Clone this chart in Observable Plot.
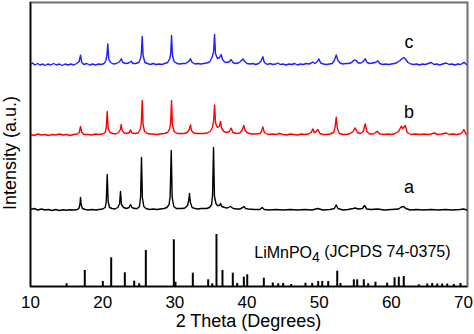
<!DOCTYPE html>
<html><head><meta charset="utf-8">
<script src="https://cdn.jsdelivr.net/npm/d3@7"></script>
<script src="https://cdn.jsdelivr.net/npm/@observablehq/plot@0.6"></script>
<style>body{margin:0;background:#fff} svg{display:block}</style>
</head><body><div id="chart"></div>
<script>
// x tick labels (2 Theta, degrees)
const xTicks = [10, 20, 30, 40, 50, 60, 70];

// sample a (black) : [2theta, intensity a.u.]
const traceA = [[10,1],[10.5,2],[11,0.5],[11.5,1.5],[12,0.5],[12.5,1],[13,0],[13.5,1],[14,0],[14.5,0.8],[15,0.2],[15.5,0.8],[16,0.5],[16.5,1],
[16.7,2],[16.85,6],[16.93,13],[17.02,6],[17.2,2],[17.6,1],[18,0.5],[18.5,1],[19,0.5],[19.5,1],[20,1.5],[20.35,3],
[20.5,9],[20.63,36],[20.76,9],[20.95,3],[21.3,2],[21.7,1.5],[22.1,3],[22.35,7],[22.47,19],[22.6,6],[22.9,3],[23.3,2],[23.65,3],[23.86,6],[24.05,3],[24.4,2],[24.8,2],
[25.1,4],[25.25,13],[25.38,53],[25.5,13],[25.7,4],[26,2],[26.5,1],[27,1.5],[27.5,1],[28,1.5],[28.5,2],[28.9,3],[29.2,6],[29.35,14],[29.5,60],[29.63,13],[29.85,4],
[30.2,2],[30.6,2],[31,2],[31.4,2.5],[31.75,5],[31.92,10],[32.03,17],[32.15,8],[32.4,3],[32.8,2],[33.2,1.5],[33.6,2],[34,2],[34.4,2],[34.8,3],[35.1,6],[35.23,16],[35.36,63],[35.49,14],
[35.7,7],[35.9,5],[36.2,5],[36.33,7],[36.5,4],[36.9,3],[37.3,2.5],[37.7,4],[38.1,2],[38.6,1.5],[39,1.5],[39.3,2.5],[39.56,4],[39.8,2],[40.2,1.5],[41,1],[41.8,1],[42.1,3],[42.4,1],
[43,0.5],[44,1],[45,0.5],[46,1],[47,0.5],[48,1],[49,0.5],[49.8,2],[50.5,0.5],[51.5,1],[52.1,2],[52.36,5.5],[52.6,2],[53.3,0.5],[54,1],[54.7,2],[55,2.5],[55.4,1.5],[56,2],[56.28,5],[56.6,1.5],
[57.2,1],[58.1,1.5],[59,0.5],[60,1],[61,1.5],[61.4,3.5],[61.7,4],[62,2],[62.6,0.5],[63.5,1],[64.5,0.5],[65.5,1],[66.5,0.5],[67.5,1],[68.5,0.5],[69.5,1],[70,1.5],[70.5,0.5]];

// sample b (red)
const traceB = [[10,1],[10.5,0],[11,1.5],[11.5,0.5],[12,1],[12.5,0],[13,1],[13.5,0.5],[14,1.5],[14.5,0.5],[15,1],[15.5,0],[16,1],[16.5,1.5],[16.75,3],[16.93,9],[17.1,3],[17.4,1],
[18,1],[18.5,0.5],[19,1.5],[19.5,1],[20,1.5],[20.35,3],[20.5,8],[20.63,24],[20.77,7],[21,3],[21.4,2],[21.8,1.5],[22.2,3],[22.45,6],[22.57,11],[22.7,5],[23,2.5],[23.4,2],[23.7,3],[23.86,5.6],
[24.05,2.5],[24.5,2],[24.9,2.5],[25.2,6],[25.35,12],[25.48,35],[25.6,11],[25.8,4],[26.2,2],[26.6,1.5],[27,1.5],[27.5,1],[28,1.5],[28.5,2],[29,3],[29.3,7],[29.42,13],[29.54,35],[29.66,11],[29.9,4],
[30.3,2],[30.8,2],[31.3,2],[31.7,3],[32,6],[32.17,10.6],[32.3,5],[32.6,2.5],[33,2],[33.5,2],[34,2],[34.5,2.5],[34.9,4],[35.2,8],[35.37,14],[35.5,30.6],[35.65,12],[35.9,8],[36.15,9],[36.33,14],
[36.5,7],[36.8,4],[37.2,3],[37.55,4],[37.81,7.3],[38.05,3],[38.5,2],[39,2.5],[39.3,5],[39.56,10],[39.75,5],[40.1,2.5],[40.6,1.5],[41.2,1.5],[41.8,2],[42,4],[42.19,8.6],[42.4,3],[42.9,1],
[43.5,1.5],[44,1],[44.5,2],[45,1],[45.5,0.5],[46,1.5],[46.5,1],[47,0.5],[47.5,1.5],[48,1],[48.5,1.5],[48.9,3],[49.12,6.6],[49.3,3],[49.5,3.5],[49.81,6],[50.1,2],[50.5,1],[51,1],[51.5,1.5],
[52,3],[52.2,8],[52.36,18.3],[52.52,7],[52.8,2],[53.3,1],[53.8,1],[54.3,2],[54.7,4],[54.99,7.6],[55.3,3],[55.7,2],[56.1,4],[56.38,11.6],[56.6,4],[57,1.5],[57.5,1.5],[58.04,4.3],[58.4,1.5],
[59,1],[59.5,1.5],[60,1],[60.5,2],[61,4],[61.37,9.3],[61.6,7],[61.92,10],[62.2,3],[62.7,1],[63.3,1.5],[64,1],[64.5,1.5],[65,1],[65.5,1.5],[65.98,2.5],[66.4,1],[67,1.5],[67.6,2.5],[68,1],
[68.5,1.5],[69,1],[69.5,1.5],[69.8,3],[70.04,6],[70.3,2],[70.5,1]];

// sample c (blue)
const traceC = [[10,1],[10.3,2.5],[10.6,0.5],[11,2],[11.3,0.5],[11.7,1.5],[12,0],[12.4,1.5],[12.8,0.5],[13.2,2],[13.6,0.5],[14,1.5],[14.4,0],[14.8,1.5],[15.2,0.5],[15.6,1.5],[16,0.5],[16.4,2],
[16.75,4],[16.93,10.3],[17.1,3],[17.4,1],[17.8,2],[18.2,0.5],[18.6,1.5],[19,0.5],[19.4,1.5],[19.8,1],[20.2,2],[20.45,5],[20.58,10],[20.71,21.6],[20.85,6],[21.1,3],[21.5,1.5],[21.9,2],
[22.3,3.5],[22.57,6.6],[22.8,3],[23.2,2],[23.6,2.5],[23.95,4.3],[24.2,2],[24.6,2],[25,3],[25.25,7],[25.36,12],[25.48,29],[25.6,10],[25.85,3],[26.2,2],[26.6,1],[27,2],[27.4,1],[27.8,1.5],
[28.2,1],[28.6,2],[29,3],[29.3,7],[29.43,12],[29.54,30],[29.67,10],[29.9,4],[30.3,2],[30.7,1.5],[31.1,2],[31.5,2],[31.9,4],[32.17,6.6],[32.4,3],[32.8,1.5],[33.2,2],[33.6,1.5],[34,2],
[34.4,2.5],[34.8,3.5],[35.15,8],[35.38,14],[35.5,31],[35.63,12],[35.9,7],[36.2,8],[36.42,11],[36.6,6],[36.9,3.5],[37.3,3],[37.6,4],[37.81,6],[38.05,3],[38.4,2],[38.8,2.5],[39.1,4],
[39.42,6.5],[39.7,4],[40,2],[40.4,1.5],[40.8,2],[41.2,1],[41.6,2],[41.95,4.5],[42.19,8.8],[42.4,3],[42.8,1],[43.2,2],[43.6,1],[44,1.5],[44.27,2.5],[44.6,1],[45,1.5],[45.4,0.5],[45.8,1.5],
[46.2,1],[46.6,2],[47,0.5],[47.4,1.5],[47.8,1],[48.2,2],[48.6,1.5],[48.9,2.5],[49.12,3.5],[49.4,2],[49.7,3.5],[49.95,6.6],[50.2,2.5],[50.6,1.5],[51,1],[51.4,1.5],[51.8,2],[52.1,5],
[52.36,10.6],[52.6,5],[52.9,2.5],[53.3,1.5],[53.7,2],[54.1,2],[54.5,3],[54.85,5.6],[55.13,5],[55.4,2.5],[55.8,2.5],[56.1,4],[56.38,6.6],[56.65,3],[57,2],[57.4,2.5],[57.8,3],[58.12,4.6],
[58.4,2],[58.8,1],[59.2,1.5],[59.6,1],[60,1.5],[60.4,2],[60.8,3],[61.2,5],[61.5,7],[61.73,8],[62,6],[62.3,3],[62.7,1.5],[63.1,1],[63.5,1.5],[63.9,0.5],[64.3,1.5],[64.7,1],[65.1,2],
[65.52,3],[65.9,1],[66.3,1.5],[66.7,0.5],[67.1,1.5],[67.6,2.5],[68,1],[68.4,1.5],[68.8,0.5],[69.2,1.5],[69.6,1],[69.9,2.5],[70.14,3],[70.4,1]];

// reference pattern LiMnPO4 (JCPDS 74-0375): [2theta, relative intensity]
const refPeaks = [[15.0,2.7],[17.52,16],[20.02,5],[21.18,28.7],[23.07,13.7],[24.37,5.3],[25.06,2.7],[25.98,36],[29.86,46.7],[30.09,4.3],
[32.49,13.3],[34.62,6.7],[35.18,2.7],[35.77,52],[36.6,16],[38.03,13.3],[38.64,3],[39.56,9.3],[40.03,11.7],[42.33,8.3],[43.57,3.5],
[44.32,2.7],[45.01,3],[46.12,2],[48.1,3.3],[49.03,3],[49.86,5],[50.42,5],[51.25,5],[52.5,15.3],[52.95,3],[54.8,6.7],[55.27,6.7],
[56.18,6.7],[56.79,2.7],[57.8,4.3],[59.42,3.3],[60.44,8.7],[61.03,9.3],[61.72,10],[63.8,1.7],[64.97,2.5],[65.66,3],[66.35,2.5],
[67.04,2.5],[67.74,2.5],[68.65,2],[69.58,3]];

const sampleNames = ["a", "b", "c"];
const refLabel = "LiMnPO4 (JCPDS 74-0375)";
const xTitle = "2 Theta (Degrees)";
const yTitle = "Intensity (a.u.)";

// vertical stacking offsets for display
const offsets = [76, 151, 221];
const traces = [traceA, traceB, traceC];
const colors = ["#000000", "#ff0000", "#1e1eff"];
const labelRows = sampleNames.map((s, i) => ({name: s, x: 62.45, y: offsets[i] + 18}));

const font = "'Liberation Sans', Arial, sans-serif";

const chart = Plot.plot({
  width: 474, height: 334,
  marginLeft: 30, marginRight: 7, marginTop: 2, marginBottom: 48,
  style: {fontFamily: font, fontSize: "17px", background: "#fff", color: "#000"},
  x: {domain: [10, 70.55]},
  y: {domain: [0, 284], axis: null},
  marks: [
    Plot.frame({stroke: "#6e6e6e", strokeWidth: 2}),
    ...traces.map((t, i) => Plot.line(t, {x: d => d[0], y: d => d[1] + offsets[i], stroke: colors[i], strokeWidth: 1.4, clip: true})),
    Plot.ruleX(refPeaks, {x: d => d[0], y1: 0, y2: d => d[1], stroke: "#000", strokeWidth: 2}),
    Plot.ruleX([10], {stroke: "#000", strokeWidth: 1.5}),
    Plot.ruleY([0], {stroke: "#000", strokeWidth: 1.5}),
    Plot.text(labelRows, {x: "x", y: "y", text: "name", fontSize: 18, lineAnchor: "bottom", fill: "#000"}),
    Plot.text([refLabel], {x: 41.0, y: 29, text: d => d, textAnchor: "start", lineAnchor: "bottom", fontSize: 16, fill: "#000"}),
    Plot.axisX({ticks: xTicks, tickSize: 0, tickPadding: 9, fontSize: 17, label: null, tickFormat: d => String(d)})
  ]
});

const svg = d3.select(chart);
// subscript in reference label
svg.selectAll("text").filter(function() { return this.textContent === refLabel; }).each(function() {
  const t = d3.select(this);
  t.text(null);
  t.append("tspan").text("LiMnPO");
  t.append("tspan").attr("dy", "0.3em").attr("font-size", "14px").text("4");
  t.append("tspan").attr("dy", "-0.3em").text(" (JCPDS 74-0375)");
});
// axis titles
svg.append("text").attr("transform", "translate(248.5,327)").attr("text-anchor", "middle")
  .attr("font-size", 18).attr("font-family", font).attr("fill", "#000").text(xTitle);
svg.append("text").attr("transform", "translate(15.5,153) rotate(-90)").attr("text-anchor", "middle")
  .attr("font-size", 18).attr("font-family", font).attr("fill", "#000").text(yTitle);

document.getElementById("chart").appendChild(chart);
</script>
</body></html>
